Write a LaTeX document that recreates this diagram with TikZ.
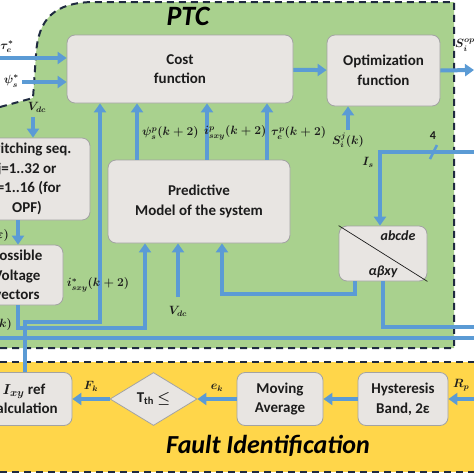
\documentclass[tikz,border=0pt]{standalone}
\usepackage{amsmath}
\usepackage{fontspec}
\setmainfont{Carlito}
\usepackage{tikz}
\usetikzlibrary{arrows.meta, shapes.geometric}
\definecolor{ptcgreen}{HTML}{A9D18E}
\definecolor{faultyellow}{HTML}{FFD64A}
\definecolor{boxfill}{HTML}{E8E5E2}
\definecolor{boxline}{HTML}{A3A3A3}
\definecolor{flowblue}{HTML}{5B9BD5}
\definecolor{borderdark}{HTML}{1F2A40}
\definecolor{labeltext}{HTML}{1C1C1C}
\tikzset{
x=1pt, y=-1pt, % one unit is one pixel of the sketch, y runs downwards
block/.style={draw=boxline, fill=boxfill, rounded corners=8pt, line width=0.8pt, align=center, text=labeltext,
  font=\bfseries\boldmath\fontsize{15}{19.5}\selectfont, inner sep=2pt}, % the grey boxes
decision/.style={diamond, draw=boxline, fill=boxfill, line width=0.8pt, text=labeltext, shape aspect=1.64,
  font=\bfseries\boldmath\fontsize{15}{18}\selectfont, inner sep=1pt}, % threshold test
flow/.style={draw=flowblue, line width=4pt, -{Triangle[width=12pt,length=9pt]}}, % signal with arrow head
wire/.style={draw=flowblue, line width=4pt}, % signal without arrow head
sig/.style={font=\boldmath\fontsize{12}{14}\selectfont, text=labeltext, inner sep=1pt}, % signal names
border/.style={draw=borderdark, line width=2pt, dash pattern=on 7pt off 5pt}, % dashed frames
title/.style={font=\bfseries\itshape, text=black}, % PTC and Fault Identification
}
\begin{document}
\begin{tikzpicture}
        \useasboundingbox (0,0) rectangle (474,474);
        \clip (0,0) rectangle (474,474);
        \fill[white] (0,0) rectangle (474,474);

        % PTC area
        \fill[ptcgreen] (0,107) -- (33,98) -- (36,55) .. controls (38,18) and (55,3) .. (92,2) -- (454,2) -- (454,348) -- (0,348) -- cycle;
        \draw[border] (0,107) -- (33,98) -- (36,55) .. controls (38,18) and (55,3) .. (92,2) -- (454,2) -- (454,348) -- (0,348);
        % fault identification area
        \fill[faultyellow] (0,362) rectangle (474,472);
        \draw[border] (0,362) -- (474,362) (0,472) -- (474,472);

        \node[title, font=\bfseries\itshape\fontsize{28}{30}\selectfont] (ptc) at (188,16) {PTC};
        \node[title, font=\bfseries\itshape\fontsize{26}{28}\selectfont] (fid) at (268,446) {Fault Identification};

        \node[block, minimum width=226pt, minimum height=68pt] (cost) at (180,69) {Cost\\function};
        \node[block, minimum width=113pt, minimum height=71pt] (opt) at (383.5,70.5) {Optimization\\function};
        \node[block, minimum width=126pt, minimum height=82pt] (sw) at (27,179) {Switching seq.\\j=1..32 or\\j=1..16 (for\\OPF)};
        \node[block, minimum width=92pt, minimum height=60pt] (pv) at (17,275) {Possible\\Voltage\\vectors};
        \node[block, minimum width=182pt, minimum height=83pt] (pred) at (199,201.5) {Predictive\\Model of the system};
        \node[block, minimum width=88pt, minimum height=55pt] (conv) at (383,253.5) {};
        \draw[labeltext, line width=0.7pt] (conv.north west) -- (conv.south east);
        \node[sig, font=\bfseries\itshape\fontsize{14}{16}\selectfont] (abc) at (398,236) {abcde};
        \node[sig, font=\bfseries\itshape\fontsize{14}{16}\selectfont] (axy) at (383,272) {αβxy};

        \node[block, minimum width=96pt, minimum height=53pt] (iref) at (24,399) {$I_{xy}$ ref\\calculation};
        \node[decision, minimum width=87pt, minimum height=53pt] (thr) at (153.5,399) {T\textsubscript{th} $\leq$};
        \node[block, minimum width=86pt, minimum height=53pt] (mavg) at (280,399) {Moving\\Average};
        \node[block, minimum width=90pt, minimum height=53pt] (hyst) at (403,399) {Hysteresis\\Band, 2ε};

        % free ends and corners of the signal lines
        \coordinate (tin) at (0,58);
        \coordinate (psin) at (22,82);
        \coordinate (vdca) at (33,117);
        \coordinate (k1) at (18,328);
        \coordinate (k2) at (145,328);
        \coordinate (r1) at (25,322);
        \coordinate (r2) at (100,322);
        \coordinate (ps) at (137,133);
        \coordinate (is) at (207,133);
        \coordinate (ts) at (267,133);
        \coordinate (sj) at (348,130);
        \coordinate (sout) at (474,70);
        \coordinate (isin) at (474,152);
        \coordinate (isc) at (380,152);
        \coordinate (c1) at (355,294);
        \coordinate (c2) at (222,294);
        \coordinate (vdcb) at (178,297);
        \coordinate (c3) at (383,327);
        \coordinate (cout) at (474,327);
        \coordinate (lin) at (0,338);
        \coordinate (lout) at (474,338);
        \coordinate (rin) at (474,399);

        % PTC signals
        \draw[flow] (tin) -- (tin -| cost.west);
        \draw[flow] (psin) -- (psin -| cost.west);
        \draw[flow] (vdca) -- (sw.north -| vdca);
        \draw[flow] (sw.south -| k1) -- (pv.north -| k1);
        \draw[flow] (pv.south -| k1) -- (k1) -- (k2) -- (pred.south -| k2);
        \draw[flow] (iref.north -| r1) -- (r1) -- (r2) -- (cost.south -| r2);
        \draw[flow] (pred.north -| ps) -- (cost.south -| ps);
        \draw[flow] (pred.north -| is) -- (cost.south -| is);
        \draw[flow] (pred.north -| ts) -- (cost.south -| ts);
        \draw[flow] (cost) -- (opt);
        \draw[flow] (opt.east) -- (sout);
        \draw[flow] (sj) -- (opt.south -| sj);
        \draw[flow] (isin) -- (isc) -- (conv.north -| isc);
        \draw[wire, line width=2.5pt] (430,159) -- (437,145);
        \draw[flow] (conv.south -| c1) -- (c1) -- (c2) -- (pred.south -| c2);
        \draw[flow] (vdcb) -- (pred.south -| vdcb);
        \draw[wire] (conv.south -| c3) -- (c3) -- (cout);
        \draw[wire] (lin) -- (lout);

        % fault identification signals
        \draw[flow] (rin) -- node[sig, above=5pt] (lrp) {$R_p$} (hyst);
        \draw[flow] (hyst) -- (mavg);
        \draw[flow] (mavg) -- node[sig, above=5pt] (lek) {$e_k$} (thr);
        \draw[flow] (thr) -- node[sig, above=5pt] (lfk) {$F_k$} (iref);

        % signal names
        \node[sig] (ltau) at (7,47) {$\tau_e^{*}$};
        \node[sig, anchor=east] (lpsi) at (20,81) {$\psi_s^{*}$};
        \node[sig] (lvdca) at (37,107) {$V_{dc}$};
        \node[sig, anchor=east] (leps) at (10,235) {$(\varepsilon)$};
        \node[sig, anchor=east] (lk) at (13,324) {$(k)$};
        \node[sig] (lisref) at (98,285) {$i^{*}_{sxy}(k+2)$};
        \node[sig, anchor=west] (lpsp) at (141,133) {$\psi_s^{p}(k+2)$};
        \node[sig, anchor=west] (lisp) at (203,133) {$i_{sxy}^{p}(k+2)$};
        \node[sig, anchor=west] (ltep) at (270,133) {$\tau_e^{p}(k+2)$};
        \node[sig, below=2pt] (lsj) at (sj) {$S_i^{j}(k)$};
        \node[sig, anchor=west] (lsopt) at (454,44) {$S_i^{opt}$};
        \node[sig] (lis) at (368,162) {$I_s$};
        \node[sig, font=\bfseries\fontsize{12}{14}\selectfont] (lfour) at (433,136) {4};
        \node[sig] (lvdcb) at (178,311) {$V_{dc}$};
\end{tikzpicture}
\end{document}
